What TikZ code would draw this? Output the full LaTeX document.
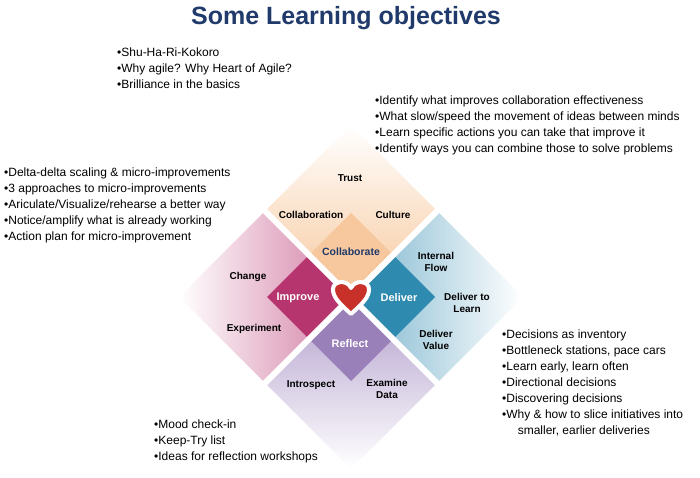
\documentclass[tikz,border=0pt]{standalone}
\usepackage{fontspec}
\setmainfont{Liberation Sans}
\usetikzlibrary{calc}
\definecolor{navy}{HTML}{1F3A6B}
\definecolor{orA}{HTML}{F7C89D}
\definecolor{pkA}{HTML}{D27CA3}
\definecolor{mgA}{HTML}{B7356E}
\definecolor{blA}{HTML}{7DB6CE}
\definecolor{tlA}{HTML}{2E8AAE}
\definecolor{puA}{HTML}{B29FCC}
\definecolor{puB}{HTML}{9A80B8}
\definecolor{hrt}{HTML}{C8302A}
\begin{document}
\begin{tikzpicture}[x=1pt,y=-1pt,
  blk/.style={anchor=north west,align=left,font=\fontsize{12}{16}\selectfont,inner sep=0pt},
  lab/.style={font=\bfseries\fontsize{10}{12.5}\selectfont,align=center,inner sep=0pt},
  wlab/.style={font=\bfseries\fontsize{11}{12}\selectfont,text=white,inner sep=0pt}]
\useasboundingbox (0,0) rectangle (700,478);
\coordinate (C) at (351,297);
% outer quadrants
\shade[top color=white,bottom color=orA] (C) -- ++(-86,-86) -- ++(86,-86) -- ++(86,86) -- cycle;
\shade[left color=white,right color=pkA] (C) -- ++(-86,-86) -- ++(-86,86) -- ++(86,86) -- cycle;
\shade[right color=white,left color=blA] (C) -- ++(86,-86) -- ++(86,86) -- ++(-86,86) -- cycle;
\shade[bottom color=white,top color=puA] (C) -- ++(-86,86) -- ++(86,86) -- ++(86,-86) -- cycle;
% inner diamonds
\fill[orA] (C) -- ++(-42,-42) -- ++(42,-42) -- ++(42,42) -- cycle;
\fill[mgA] (C) -- ++(-42,-42) -- ++(-42,42) -- ++(42,42) -- cycle;
\fill[tlA] (C) -- ++(42,-42) -- ++(42,42) -- ++(-42,42) -- cycle;
\fill[puB] (C) -- ++(-42,42) -- ++(42,42) -- ++(42,-42) -- cycle;
% white gaps
\draw[white,line width=6pt] ($(C)+(-176,-176)$) -- ($(C)+(176,176)$);
\draw[white,line width=6pt] ($(C)+(-176,176)$) -- ($(C)+(176,-176)$);
% heart
\filldraw[fill=hrt,draw=white,line width=4pt,line join=round]
 (351,314) .. controls (338,302) and (333,297) .. (333,289)
 .. controls (333,281) and (347,279) .. (351,288)
 .. controls (355,279) and (369,281) .. (369,289)
 .. controls (369,297) and (364,302) .. (351,314) -- cycle;
% title
\node[text=navy,font=\bfseries\fontsize{25}{27}\selectfont] (title) at (346,18) {Some Learning objectives};
% blocks
\node[blk] (b1) at (117,48) {•Shu-Ha-Ri-Kokoro\\•Why agile? Why Heart of Agile?\\•Brilliance in the basics};
\node[blk] (b2) at (375,96) {•Identify what improves collaboration effectiveness\\•What slow/speed the movement of ideas between minds\\•Learn specific actions you can take that improve it\\•Identify ways you can combine those to solve problems};
\node[blk] (b3) at (4,168) {•Delta-delta scaling \& micro-improvements\\•3 approaches to micro-improvements\\•Ariculate/Visualize/rehearse a better way\\•Notice/amplify what is already working\\•Action plan for micro-improvement};
\node[blk] (b4) at (502,330) {•Decisions as inventory\\•Bottleneck stations, pace cars\\•Learn early, learn often\\•Directional decisions\\•Discovering decisions\\•Why \& how to slice initiatives into\\\hspace*{1.3em}smaller, earlier deliveries};
\node[blk] (b5) at (154,420) {•Mood check-in\\•Keep-Try list\\•Ideas for reflection workshops};
% labels
\node[lab] (l1) at (350,178) {Trust};
\node[lab] (l2) at (311,215) {Collaboration};
\node[lab] (l3) at (393,215) {Culture};
\node[lab,text=navy,font=\bfseries\fontsize{10.5}{12}\selectfont] (l4) at (351,252) {Collaborate};
\node[lab] (l5) at (436,262) {Internal\\Flow};
\node[lab] (l6) at (248,277) {Change};
\node[wlab] (l7) at (298,298) {Improve};
\node[wlab] (l8) at (399,298) {Deliver};
\node[lab] (l9) at (467,303) {Deliver to\\Learn};
\node[lab] (l10) at (254,329) {Experiment};
\node[wlab] (l11) at (350,344) {Reflect};
\node[lab] (l12) at (436,340) {Deliver\\Value};
\node[lab] (l13) at (311,385) {Introspect};
\node[lab] (l14) at (387,389) {Examine\\Data};
\end{tikzpicture}
\end{document}
